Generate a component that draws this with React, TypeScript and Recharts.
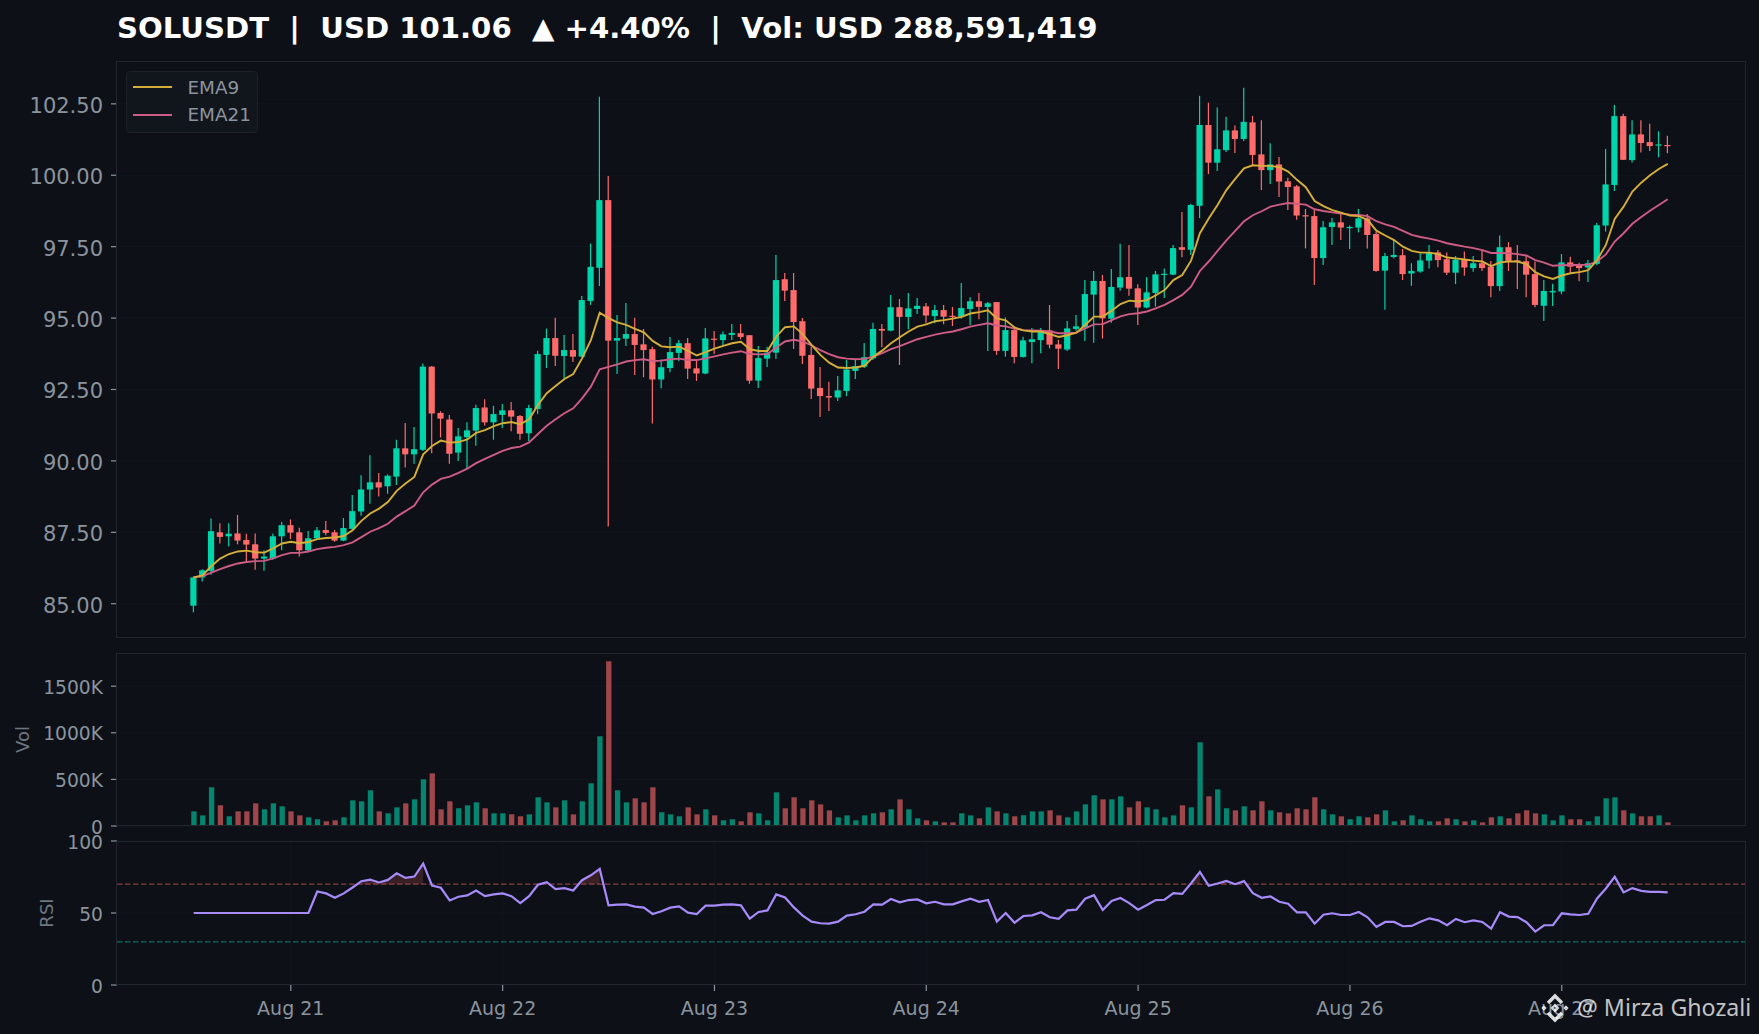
import { Area, Bar, CartesianGrid, Cell, ComposedChart, Legend, Line, ReferenceLine, XAxis, YAxis } from 'recharts';

const UP = '#00d4aa';
const DOWN = '#ff6b6b';
const MUTED = '#8b949e';
const BG = '#0d1117';
const FRAME = '#21262d';
const GRID = '#11161d';
const FONT = '"DejaVu Sans", sans-serif';

const opens = [
  84.93, 85.92, 86.15, 87.5, 87.36, 87.46, 87.23, 87.08, 86.58, 86.58, 87.36, 87.75, 87.5, 86.87, 87.29, 87.58, 87.5, 87.21, 87.62, 88.23, 89.0, 89.25, 89.11, 89.45,
  90.44, 90.23, 90.39, 93.3, 91.68, 91.45, 90.29, 90.83, 91.06, 91.87, 91.35, 91.61, 91.77, 91.57, 90.97, 91.82, 93.71, 94.3, 93.67, 93.88, 93.65, 95.6, 96.76, 99.13,
  94.21, 94.28, 94.44, 94.08, 93.91, 92.85, 93.25, 93.78, 94.12, 93.24, 93.06, 94.28, 94.23, 94.41, 94.47, 94.4, 92.81, 93.58, 93.79, 96.36, 95.98, 94.89, 93.71, 92.55,
  92.27, 92.22, 92.45, 93.15, 93.3, 93.59, 94.62, 94.56, 95.38, 95.04, 95.32, 95.41, 95.07, 95.28, 95.08, 95.05, 95.32, 95.59, 95.39, 95.56, 93.85, 94.58, 93.64, 94.16,
  94.23, 94.57, 94.08, 93.9, 94.62, 94.68, 95.82, 96.3, 94.98, 96.07, 96.44, 96.04, 95.37, 95.88, 96.51, 96.52, 97.48, 97.39, 98.93, 101.76, 100.44, 100.88, 101.57, 101.27,
  101.85, 100.73, 100.18, 100.38, 99.79, 99.61, 98.6, 98.57, 97.1, 98.19, 98.35, 98.17, 98.17, 98.49, 97.94, 96.66, 97.14, 97.2, 96.56, 96.63, 97.01, 97.3, 97.06, 96.59,
  97.05, 96.75, 96.92, 96.8, 96.12, 97.48, 97.02, 96.99, 96.54, 95.43, 95.9, 95.93, 96.95, 96.85, 96.77, 96.9, 98.24, 99.66, 102.07, 100.53, 101.43, 101.16, 101.06, 101.06,
];
const closes = [
  85.92, 86.17, 87.54, 87.34, 87.45, 87.21, 87.07, 86.58, 86.65, 87.36, 87.75, 87.49, 86.87, 87.29, 87.57, 87.48, 87.21, 87.65, 88.24, 89.0, 89.25, 89.07, 89.48, 90.44,
  90.23, 90.41, 93.3, 91.66, 91.48, 90.25, 90.86, 91.07, 91.85, 91.35, 91.64, 91.77, 91.55, 90.95, 91.85, 93.74, 94.3, 93.68, 93.88, 93.65, 95.63, 96.79, 99.13, 94.21,
  94.3, 94.44, 94.06, 93.88, 92.85, 93.28, 93.81, 94.12, 93.23, 93.06, 94.29, 94.25, 94.43, 94.48, 94.34, 92.81, 93.6, 93.79, 96.33, 95.96, 94.86, 93.68, 92.53, 92.27,
  92.22, 92.47, 93.2, 93.32, 93.63, 94.62, 94.56, 95.38, 95.04, 95.34, 95.43, 95.09, 95.28, 95.05, 95.05, 95.35, 95.59, 95.39, 95.52, 93.85, 94.58, 93.64, 94.22, 94.26,
  94.57, 94.07, 93.93, 94.64, 94.71, 95.84, 96.3, 94.99, 96.09, 96.43, 96.03, 95.37, 95.9, 96.53, 96.55, 97.45, 97.39, 98.96, 101.76, 100.44, 100.91, 101.57, 101.27, 101.87,
  100.71, 100.18, 100.38, 99.78, 99.59, 98.59, 98.57, 97.1, 98.18, 98.35, 98.17, 98.19, 98.49, 97.91, 96.65, 97.17, 97.21, 96.54, 96.65, 97.02, 97.3, 97.03, 96.59, 97.05,
  96.77, 96.92, 96.75, 96.12, 97.48, 97.0, 96.98, 96.52, 95.46, 95.95, 95.95, 96.95, 96.8, 96.75, 96.92, 98.25, 99.68, 102.07, 100.54, 101.43, 101.13, 101.02, 101.08, 101.03,
];
const highs = [
  85.95, 86.21, 87.98, 87.82, 87.82, 88.11, 87.45, 87.46, 86.87, 87.46, 87.86, 87.95, 87.66, 87.55, 87.69, 87.9, 87.58, 88.0, 88.81, 89.5, 90.2, 89.58, 89.53, 90.74,
  91.33, 91.19, 93.41, 93.32, 91.74, 91.61, 91.15, 91.35, 91.97, 92.16, 91.93, 91.99, 92.06, 91.61, 91.97, 93.86, 94.63, 95.01, 94.41, 94.44, 95.77, 97.61, 102.75, 99.97,
  95.11, 95.53, 95.01, 94.62, 94.0, 93.56, 94.34, 94.23, 94.3, 93.56, 94.65, 94.55, 94.53, 94.79, 94.79, 94.4, 94.02, 94.0, 97.21, 96.58, 96.58, 95.0, 94.0, 93.29,
  92.77, 92.97, 93.53, 93.53, 94.13, 94.84, 94.79, 95.81, 95.67, 95.88, 95.7, 95.53, 95.46, 95.46, 95.39, 96.23, 95.73, 95.88, 95.56, 95.56, 95.02, 94.7, 94.35, 94.65,
  94.65, 95.46, 94.24, 94.9, 95.11, 96.33, 96.65, 96.51, 96.72, 97.6, 97.56, 96.18, 96.44, 96.65, 96.74, 97.56, 98.71, 99.0, 102.78, 102.54, 102.37, 102.05, 101.74, 103.06,
  102.08, 101.93, 101.12, 100.64, 99.91, 99.66, 98.82, 98.79, 98.4, 98.5, 98.64, 98.24, 98.82, 98.64, 98.02, 97.28, 97.73, 97.42, 96.92, 97.27, 97.56, 97.38, 97.3, 97.17,
  97.33, 97.17, 97.38, 97.0, 97.89, 97.66, 97.56, 97.21, 96.98, 96.33, 96.2, 97.24, 97.15, 96.94, 97.03, 98.33, 100.92, 102.46, 102.15, 101.93, 101.93, 101.8, 101.54, 101.38,
];
const lows = [
  84.7, 85.78, 86.01, 87.11, 87.0, 87.08, 86.5, 86.19, 86.15, 86.54, 86.87, 87.26, 86.65, 86.83, 87.26, 87.4, 87.17, 87.19, 87.59, 88.08, 88.5, 88.75, 88.85, 89.16,
  89.77, 89.9, 90.35, 90.27, 90.82, 89.9, 90.0, 89.74, 90.53, 91.24, 90.74, 91.15, 91.04, 90.74, 90.7, 91.64, 93.25, 93.32, 92.89, 93.46, 93.63, 95.46, 96.12, 87.7,
  93.04, 94.02, 93.01, 92.93, 91.31, 92.54, 93.1, 93.5, 92.87, 92.8, 93.03, 93.74, 94.04, 94.23, 94.26, 92.7, 92.55, 93.29, 93.57, 95.6, 93.92, 93.39, 92.17, 91.54,
  91.75, 92.1, 92.27, 92.87, 93.25, 93.53, 93.98, 94.54, 93.36, 94.61, 95.14, 94.81, 94.82, 94.78, 94.72, 94.98, 94.75, 94.96, 93.85, 93.71, 93.65, 93.42, 93.62, 93.42,
  93.77, 93.94, 93.22, 93.85, 94.56, 94.2, 94.14, 94.28, 94.84, 95.96, 95.78, 94.76, 95.34, 95.4, 95.7, 96.5, 97.13, 97.21, 98.5, 100.04, 100.15, 100.81, 100.78, 101.2,
  100.36, 99.48, 99.69, 99.24, 98.78, 98.44, 97.44, 96.16, 96.86, 97.56, 97.73, 97.42, 98.0, 97.44, 96.62, 95.29, 97.09, 96.33, 96.13, 96.59, 96.74, 96.78, 96.51, 96.19,
  96.48, 96.62, 96.65, 95.73, 95.95, 96.65, 96.02, 95.73, 95.38, 94.9, 95.42, 95.84, 96.59, 96.29, 96.26, 96.85, 98.03, 99.45, 100.53, 100.45, 100.8, 100.85, 100.63, 100.77,
];
const ema9 = [
  85.92, 85.99, 86.32, 86.58, 86.74, 86.83, 86.86, 86.8, 86.79, 86.94, 87.11, 87.17, 87.12, 87.16, 87.26, 87.3, 87.32, 87.37, 87.57, 87.9, 88.16, 88.33, 88.56, 88.95,
  89.21, 89.44, 90.23, 90.52, 90.71, 90.64, 90.66, 90.75, 90.98, 91.08, 91.22, 91.32, 91.36, 91.28, 91.46, 91.96, 92.37, 92.62, 92.87, 93.04, 93.59, 94.23, 95.19, 95.0,
  94.85, 94.76, 94.62, 94.5, 94.2, 94.01, 93.98, 94.0, 93.85, 93.69, 93.81, 93.93, 94.03, 94.12, 94.17, 93.91, 93.85, 93.85, 94.35, 94.68, 94.71, 94.44, 94.06, 93.71,
  93.44, 93.27, 93.25, 93.27, 93.33, 93.65, 93.86, 94.12, 94.33, 94.53, 94.7, 94.78, 94.89, 94.93, 94.98, 95.04, 95.16, 95.21, 95.27, 94.99, 94.92, 94.67, 94.57, 94.53,
  94.53, 94.44, 94.34, 94.4, 94.49, 94.76, 95.05, 95.05, 95.26, 95.49, 95.61, 95.58, 95.63, 95.8, 95.98, 96.33, 96.51, 97.01, 97.97, 98.49, 98.96, 99.48, 99.87, 100.24,
  100.35, 100.33, 100.33, 100.28, 100.13, 99.84, 99.58, 99.1, 98.92, 98.78, 98.69, 98.59, 98.57, 98.44, 98.06, 97.89, 97.73, 97.5, 97.35, 97.29, 97.29, 97.24, 97.12, 97.09,
  97.05, 97.01, 96.98, 96.82, 96.95, 96.98, 96.98, 96.89, 96.61, 96.46, 96.37, 96.49, 96.57, 96.61, 96.68, 97.03, 97.56, 98.47, 98.9, 99.43, 99.74, 100.0, 100.22, 100.4,
];
const ema21 = [
  85.92, 85.97, 86.09, 86.21, 86.32, 86.41, 86.46, 86.49, 86.5, 86.59, 86.7, 86.78, 86.78, 86.83, 86.91, 86.96, 86.99, 87.05, 87.15, 87.33, 87.52, 87.65, 87.8, 88.05,
  88.24, 88.44, 88.9, 89.17, 89.37, 89.45, 89.58, 89.73, 89.92, 90.07, 90.21, 90.35, 90.45, 90.5, 90.65, 90.94, 91.23, 91.46, 91.67, 91.84, 92.19, 92.6, 93.21, 93.29,
  93.38, 93.48, 93.53, 93.56, 93.5, 93.51, 93.56, 93.58, 93.53, 93.53, 93.59, 93.66, 93.73, 93.79, 93.84, 93.74, 93.73, 93.74, 93.97, 94.18, 94.24, 94.18, 94.04, 93.88,
  93.74, 93.63, 93.58, 93.56, 93.57, 93.65, 93.77, 93.91, 94.02, 94.14, 94.26, 94.34, 94.42, 94.48, 94.53, 94.61, 94.7, 94.76, 94.82, 94.74, 94.71, 94.63, 94.58, 94.57,
  94.56, 94.53, 94.47, 94.47, 94.49, 94.64, 94.78, 94.79, 94.93, 95.06, 95.14, 95.17, 95.23, 95.34, 95.46, 95.63, 95.81, 96.1, 96.65, 96.98, 97.35, 97.72, 98.05, 98.39,
  98.6, 98.74, 98.9, 98.97, 99.03, 99.0, 98.97, 98.81, 98.75, 98.7, 98.66, 98.62, 98.61, 98.57, 98.39, 98.28, 98.19, 98.05, 97.91, 97.84, 97.78, 97.71, 97.62, 97.56,
  97.5, 97.45, 97.38, 97.28, 97.28, 97.27, 97.24, 97.19, 97.03, 96.94, 96.83, 96.85, 96.86, 96.86, 96.87, 96.98, 97.23, 97.68, 97.97, 98.3, 98.54, 98.76, 98.96, 99.16,
];
// volume in thousands
const volumes = [
  157, 114, 415, 222, 104, 157, 157, 243, 179, 243, 211, 157, 114, 93, 72, 50, 61, 93, 275, 265, 383, 157, 136, 200,
  243, 286, 501, 565, 179, 265, 190, 222, 254, 190, 136, 136, 125, 104, 125, 308, 254, 200, 275, 125, 265, 458, 962, 1767,
  383, 254, 297, 254, 415, 147, 125, 104, 200, 125, 179, 114, 61, 72, 50, 147, 136, 61, 361, 190, 308, 190, 275, 232,
  168, 93, 114, 61, 114, 136, 147, 179, 286, 179, 82, 61, 50, 39, 39, 136, 114, 82, 200, 157, 136, 104, 114, 157,
  157, 168, 114, 93, 157, 232, 329, 286, 286, 318, 200, 265, 200, 179, 93, 114, 222, 200, 898, 318, 393, 190, 168, 211,
  168, 265, 168, 147, 136, 190, 179, 308, 179, 125, 104, 72, 104, 93, 125, 168, 50, 61, 114, 72, 50, 50, 82, 72,
  50, 61, 39, 93, 104, 82, 136, 168, 136, 125, 61, 114, 72, 72, 50, 104, 297, 308, 168, 136, 104, 104, 114, 39,
];
const rsi = [
  50, 50, 50, 50, 50, 50, 50, 50, 50, 50, 50, 50, 50, 50, 64.9, 63.6, 60.6, 63.6, 67.7, 72.1, 73.2, 71.2, 73.0, 77.6,
  74.4, 75.3, 84.3, 69.1, 67.5, 58.7, 61.3, 62.2, 65.6, 61.7, 62.9, 63.6, 61.7, 56.9, 61.7, 69.6, 71.4, 66.6, 67.3, 65.6, 72.8, 76.2, 80.6, 55.3,
  55.8, 56.0, 54.4, 53.7, 49.3, 51.2, 53.7, 54.6, 50.2, 49.3, 55.1, 55.1, 55.8, 56.0, 55.3, 46.1, 50.7, 51.8, 62.9, 60.8, 53.9, 48.2, 44.0, 42.9,
  42.6, 44.0, 48.2, 49.1, 50.9, 56.0, 55.8, 59.7, 57.4, 59.0, 59.4, 56.7, 57.8, 56.0, 56.0, 58.1, 59.9, 57.8, 59.0, 44.0, 50.0, 43.3, 47.9, 48.4,
  50.5, 47.0, 45.9, 51.8, 52.3, 59.9, 62.4, 52.1, 58.3, 60.4, 56.9, 52.3, 55.5, 59.0, 59.2, 63.8, 63.3, 70.7, 78.5, 68.9, 70.5, 72.3, 70.0, 72.1,
  63.8, 60.6, 61.5, 57.8, 56.4, 50.5, 50.5, 42.6, 48.8, 49.8, 48.6, 48.6, 50.7, 47.0, 40.3, 43.8, 43.8, 40.8, 41.0, 44.0, 46.3, 44.9, 41.5, 45.9,
  43.6, 44.9, 43.8, 39.2, 50.5, 47.5, 47.2, 43.6, 37.1, 41.5, 41.5, 49.8, 49.1, 48.6, 49.5, 60.1, 67.0, 75.1, 64.3, 67.3, 65.4, 64.7, 64.7, 64.3,
];

// hour index of each midnight tick, the bars start at Aug 20 13:00
const dayHours = [11, 35, 59, 83, 107, 131, 155];
const dayLabels = ['Aug 21', 'Aug 22', 'Aug 23', 'Aug 24', 'Aug 25', 'Aug 26', 'Aug 27'];
const priceTicks = [85, 87.5, 90, 92.5, 95, 97.5, 100, 102.5];
const volTicks = [0, 500, 1000, 1500];
const rsiTicks = [0, 50, 100];
const legendItems = [
  { name: 'EMA9', color: '#d6ae3a' },
  { name: 'EMA21', color: '#cf5c85' },
];

const rows = opens.map((open, hour) => ({
  hour,
  open,
  close: closes[hour],
  high: highs[hour],
  low: lows[hour],
  range: [lows[hour], highs[hour]],
  ema9: ema9[hour],
  ema21: ema21[hour],
  vol: volumes[hour],
  rsi: rsi[hour],
  over: rsi[hour] > 70 ? [70, rsi[hour]] : null,
}));

const xDomain = [-8.69, 175.76];
const tickStyle = { fill: MUTED, fontSize: 18.7, fontFamily: FONT, dy: 1 };
const axisTick = { stroke: MUTED, strokeWidth: 1.2 };

function Candle(props: any) {
  const { x, y, width, height, payload } = props;
  const color = payload.close >= payload.open ? UP : DOWN;
  const perUnit = height / (payload.high - payload.low);
  const top = y + (payload.high - Math.max(payload.open, payload.close)) * perUnit;
  const bodyH = Math.max(Math.abs(payload.open - payload.close) * perUnit, 1.2);
  const cx = x + width / 2;
  return (
    <g>
      <line x1={cx} x2={cx} y1={y} y2={y + height} stroke={color} strokeWidth={1.2} />
      <rect x={x} y={top} width={width} height={bodyH} fill={color} />
    </g>
  );
}

function EmaLegend() {
  return (
    <div style={{ width: 132, height: 62, boxSizing: 'border-box', border: '1.5px solid #1c2127', borderRadius: 4, background: '#11151c', position: 'relative', fontFamily: FONT, fontSize: 18.4, color: MUTED }}>
      {legendItems.map((item, i) => (
        <div key={item.name} style={{ position: 'absolute', left: 6, top: 4 + i * 27.7, height: 22, display: 'flex', alignItems: 'center' }}>
          <span style={{ display: 'inline-block', width: 39, height: 2, background: item.color, marginRight: 15.5 }} />
          {item.name}
        </div>
      ))}
    </div>
  );
}

function Frame({ top, bottom }: { top: number; bottom: number }) {
  return (
    <div style={{ position: 'absolute', left: 116, top, width: 1629.5, height: bottom - top, border: `1.5px solid ${FRAME}`, boxSizing: 'border-box', pointerEvents: 'none' }} />
  );
}

function BinanceMark() {
  return (
    <svg width="28" height="30" viewBox="-14 -15 28 30" style={{ position: 'absolute', left: 1541, top: 993 }} fill="none" stroke="rgba(255,255,255,0.85)" strokeWidth="3.5">
      <path d="M-7 -5 L0 -12 L7 -5" />
      <path d="M-7 5 L0 12 L7 5" />
      <path d="M0 -3 L3 0 L0 3 L-3 0 Z" strokeWidth="2" />
      <path d="M-11 -1.5 L-9.5 0 L-11 1.5 L-12.5 0 Z" strokeWidth="1.6" />
      <path d="M11 -1.5 L12.5 0 L11 1.5 L9.5 0 Z" strokeWidth="1.6" />
    </svg>
  );
}

function PriceChart() {
  return (
    <ComposedChart width={1759} height={660} data={rows} margin={{ top: 61, right: 14, bottom: 22, left: 0 }} style={{ position: 'absolute', left: 0, top: 0 }}>
      <CartesianGrid stroke={GRID} verticalValues={dayHours} horizontalValues={priceTicks} />
      <XAxis dataKey="hour" type="number" domain={xDomain} ticks={dayHours} tick={false} tickLine={false} axisLine={false} height={0} />
      <YAxis width={117} domain={[83.8, 104]} ticks={priceTicks} tick={{ ...tickStyle, fontSize: 21, dy: 1.5 }} tickLine={axisTick} tickSize={6} tickMargin={8} axisLine={false} tickFormatter={(v: number) => v.toFixed(2)} allowDataOverflow />
      <Bar dataKey="range" barSize={6.2} shape={Candle} isAnimationActive={false} />
      <Line dataKey="ema21" stroke="#cf5c85" strokeWidth={1.9} dot={false} isAnimationActive={false} />
      <Line dataKey="ema9" stroke="#d6ae3a" strokeWidth={1.9} dot={false} isAnimationActive={false} />
      <Legend content={<EmaLegend />} layout="vertical" align="center" verticalAlign="middle" wrapperStyle={{ left: 126, top: 71, width: 132 }} />
    </ComposedChart>
  );
}

function VolumeChart() {
  return (
    <ComposedChart width={1759} height={840} data={rows} margin={{ top: 653, right: 14, bottom: 14, left: 0 }} style={{ position: 'absolute', left: 0, top: 0 }}>
      <CartesianGrid stroke={GRID} verticalValues={dayHours} horizontalValues={volTicks} />
      <XAxis dataKey="hour" type="number" domain={xDomain} ticks={dayHours} tick={false} tickLine={false} axisLine={false} height={0} />
      <YAxis width={117} domain={[0, 1856]} ticks={volTicks} tick={tickStyle} tickLine={axisTick} tickSize={6} tickMargin={8} axisLine={false} tickFormatter={(v: number) => (v === 0 ? '0' : `${v}K`)} label={{ value: 'Vol', angle: -90, position: 'insideLeft', offset: 23, textAnchor: 'middle', fill: '#6e7681', fontSize: 18, fontFamily: FONT }} />
      <Bar dataKey="vol" barSize={5.3} isAnimationActive={false}>
        {rows.map((r) => (
          <Cell key={r.hour} fill={r.close >= r.open ? UP : DOWN} fillOpacity={0.6} />
        ))}
      </Bar>
    </ComposedChart>
  );
}

function RsiChart() {
  return (
    <ComposedChart width={1759} height={1034} data={rows} margin={{ top: 841, right: 14, bottom: 0, left: 0 }} style={{ position: 'absolute', left: 0, top: 0 }}>
      <CartesianGrid stroke={GRID} verticalValues={dayHours} horizontalValues={rsiTicks} />
      <XAxis dataKey="hour" type="number" domain={xDomain} ticks={dayHours} tick={{ ...tickStyle, fontSize: 19, dy: 0 }} tickLine={axisTick} tickSize={6} tickMargin={11} axisLine={false} height={49} tickFormatter={(h: number) => dayLabels[dayHours.indexOf(h)]} />
      <YAxis width={117} domain={[0, 100]} ticks={rsiTicks} tick={tickStyle} tickLine={axisTick} tickSize={6} tickMargin={8} axisLine={false} label={{ value: 'RSI', angle: -90, position: 'insideLeft', offset: 49, textAnchor: 'middle', dx: -2.5, fill: '#6e7681', fontSize: 18, fontFamily: FONT }} />
      <ReferenceLine y={70} stroke={DOWN} strokeOpacity={0.5} strokeWidth={1.2} strokeDasharray="5.5 2.5" />
      <ReferenceLine y={30} stroke={UP} strokeOpacity={0.5} strokeWidth={1.2} strokeDasharray="5.5 2.5" />
      <Area dataKey="over" stroke="none" fill={DOWN} fillOpacity={0.18} connectNulls={false} isAnimationActive={false} />
      <Line dataKey="rsi" stroke="#a78bfa" strokeWidth={2.2} dot={false} isAnimationActive={false} />
    </ComposedChart>
  );
}

export default function App() {
  return (
    <div style={{ position: 'absolute', left: 0, top: 0, width: 1759, height: 1034, background: BG, overflow: 'hidden' }}>
      <style>{'body{margin:0;background:#0d1117}'}</style>
      <div style={{ position: 'absolute', left: 117, top: 11, fontFamily: FONT, fontWeight: 700, fontSize: 29.15, color: '#ffffff', whiteSpace: 'pre' }}>
        {'SOLUSDT  |  USD 101.06  ▲ +4.40%  |  Vol: USD 288,591,419'}
      </div>
      <RsiChart />
      <VolumeChart />
      <PriceChart />
      <Frame top={61} bottom={638} />
      <Frame top={653} bottom={826} />
      <Frame top={841} bottom={985} />
      <BinanceMark />
      <div style={{ position: 'absolute', left: 1577, top: 991, fontFamily: '"Noto Sans", sans-serif', fontSize: 23.2, color: 'rgba(255,255,255,0.75)', whiteSpace: 'pre' }}>@ Mirza Ghozali</div>
    </div>
  );
}
